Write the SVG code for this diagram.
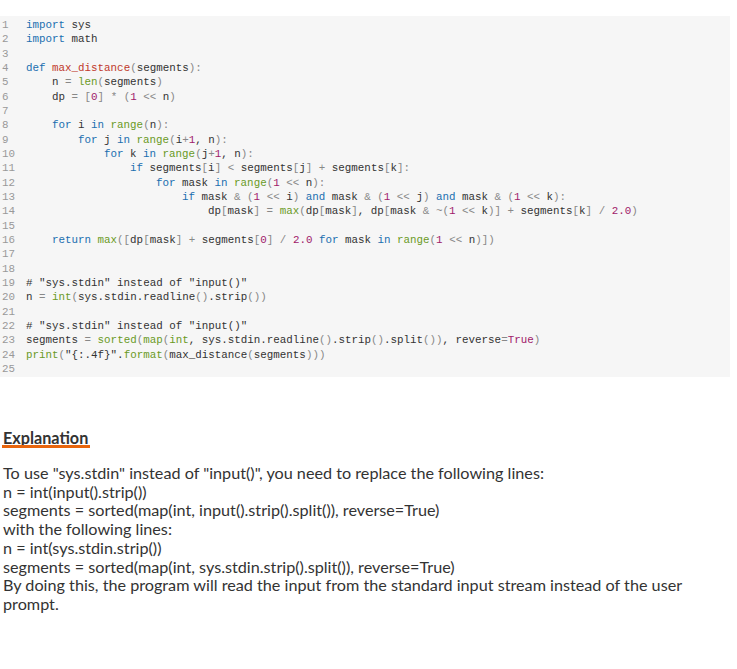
<svg xmlns="http://www.w3.org/2000/svg" width="737" height="669" viewBox="0 0 737 669">
<style>
.c{font-family:"Liberation Mono","DejaVu Sans Mono",monospace;font-size:10.85px;fill:#333;white-space:pre}
.ln{fill:#999}
.k{fill:#1a6fb0}.f{fill:#6a9a1f}.n{fill:#a0206a}.d{fill:#c0392b}.o{fill:#888}
.t{font-family:Lato,"Open Sans",sans-serif;font-size:16.2px;fill:#333}
</style>
<rect width="737" height="669" fill="#fff"/>
<g id="code">
<rect x="0" y="16" width="730" height="361" fill="#f6f6f6"/>
<g class="c ln">
<text x="2" y="28">1</text><text x="2" y="42.3">2</text><text x="2" y="56.7">3</text><text x="2" y="71">4</text><text x="2" y="85.3">5</text><text x="2" y="99.7">6</text><text x="2" y="114">7</text><text x="2" y="128.3">8</text><text x="2" y="142.7">9</text><text x="2" y="157">10</text><text x="2" y="171.3">11</text><text x="2" y="185.7">12</text><text x="2" y="200">13</text><text x="2" y="214.3">14</text><text x="2" y="228.7">15</text><text x="2" y="243">16</text><text x="2" y="257.3">17</text><text x="2" y="271.7">18</text><text x="2" y="286">19</text><text x="2" y="300.3">20</text><text x="2" y="314.7">21</text><text x="2" y="329">22</text><text x="2" y="343.3">23</text><text x="2" y="357.7">24</text><text x="2" y="372">25</text>
</g>
<g class="c">
<text x="26" y="28"><tspan class="k">import</tspan> sys</text>
<text x="26" y="42.3"><tspan class="k">import</tspan> math</text>
<text x="26" y="71"><tspan class="k">def</tspan> <tspan class="d">max_distance</tspan><tspan class="o">(</tspan>segments<tspan class="o">):</tspan></text>
<text x="52" y="85.3">n <tspan class="o">=</tspan> <tspan class="f">len</tspan><tspan class="o">(</tspan>segments<tspan class="o">)</tspan></text>
<text x="52" y="99.7">dp <tspan class="o">=</tspan> <tspan class="o">[</tspan><tspan class="n">0</tspan><tspan class="o">]</tspan> <tspan class="o">*</tspan> <tspan class="o">(</tspan><tspan class="n">1</tspan> <tspan class="o">&lt;&lt;</tspan> n<tspan class="o">)</tspan></text>
<text x="52" y="128.3"><tspan class="k">for</tspan> i <tspan class="k">in</tspan> <tspan class="f">range</tspan><tspan class="o">(</tspan>n<tspan class="o">):</tspan></text>
<text x="78" y="142.7"><tspan class="k">for</tspan> j <tspan class="k">in</tspan> <tspan class="f">range</tspan><tspan class="o">(</tspan>i<tspan class="o">+</tspan><tspan class="n">1</tspan>, n<tspan class="o">):</tspan></text>
<text x="104" y="157"><tspan class="k">for</tspan> k <tspan class="k">in</tspan> <tspan class="f">range</tspan><tspan class="o">(</tspan>j<tspan class="o">+</tspan><tspan class="n">1</tspan>, n<tspan class="o">):</tspan></text>
<text x="130" y="171.3"><tspan class="k">if</tspan> segments<tspan class="o">[</tspan>i<tspan class="o">]</tspan> <tspan class="o">&lt;</tspan> segments<tspan class="o">[</tspan>j<tspan class="o">]</tspan> <tspan class="o">+</tspan> segments<tspan class="o">[</tspan>k<tspan class="o">]:</tspan></text>
<text x="156" y="185.7"><tspan class="k">for</tspan> mask <tspan class="k">in</tspan> <tspan class="f">range</tspan><tspan class="o">(</tspan><tspan class="n">1</tspan> <tspan class="o">&lt;&lt;</tspan> n<tspan class="o">):</tspan></text>
<text x="182" y="200"><tspan class="k">if</tspan> mask <tspan class="o">&amp;</tspan> <tspan class="o">(</tspan><tspan class="n">1</tspan> <tspan class="o">&lt;&lt;</tspan> i<tspan class="o">)</tspan> <tspan class="k">and</tspan> mask <tspan class="o">&amp;</tspan> <tspan class="o">(</tspan><tspan class="n">1</tspan> <tspan class="o">&lt;&lt;</tspan> j<tspan class="o">)</tspan> <tspan class="k">and</tspan> mask <tspan class="o">&amp;</tspan> <tspan class="o">(</tspan><tspan class="n">1</tspan> <tspan class="o">&lt;&lt;</tspan> k<tspan class="o">):</tspan></text>
<text x="208" y="214.3">dp<tspan class="o">[</tspan>mask<tspan class="o">]</tspan> <tspan class="o">=</tspan> <tspan class="f">max</tspan><tspan class="o">(</tspan>dp<tspan class="o">[</tspan>mask<tspan class="o">]</tspan>, dp<tspan class="o">[</tspan>mask <tspan class="o">&amp;</tspan> <tspan class="o">~(</tspan><tspan class="n">1</tspan> <tspan class="o">&lt;&lt;</tspan> k<tspan class="o">)]</tspan> <tspan class="o">+</tspan> segments<tspan class="o">[</tspan>k<tspan class="o">]</tspan> <tspan class="o">/</tspan> <tspan class="n">2.0</tspan><tspan class="o">)</tspan></text>
<text x="52" y="243"><tspan class="k">return</tspan> <tspan class="f">max</tspan><tspan class="o">([</tspan>dp<tspan class="o">[</tspan>mask<tspan class="o">]</tspan> <tspan class="o">+</tspan> segments<tspan class="o">[</tspan><tspan class="n">0</tspan><tspan class="o">]</tspan> <tspan class="o">/</tspan> <tspan class="n">2.0</tspan> <tspan class="k">for</tspan> mask <tspan class="k">in</tspan> <tspan class="f">range</tspan><tspan class="o">(</tspan><tspan class="n">1</tspan> <tspan class="o">&lt;&lt;</tspan> n<tspan class="o">)])</tspan></text>
<text x="26" y="286"># "sys.stdin" instead of "input()"</text>
<text x="26" y="300.3">n <tspan class="o">=</tspan> <tspan class="f">int</tspan><tspan class="o">(</tspan>sys.stdin.readline<tspan class="o">()</tspan>.strip<tspan class="o">())</tspan></text>
<text x="26" y="329"># "sys.stdin" instead of "input()"</text>
<text x="26" y="343.3">segments <tspan class="o">=</tspan> <tspan class="f">sorted</tspan><tspan class="o">(</tspan><tspan class="f">map</tspan><tspan class="o">(</tspan><tspan class="f">int</tspan>, sys.stdin.readline<tspan class="o">()</tspan>.strip<tspan class="o">()</tspan>.split<tspan class="o">())</tspan>, reverse<tspan class="o">=</tspan><tspan class="n">True</tspan><tspan class="o">)</tspan></text>
<text x="26" y="357.7"><tspan class="f">print</tspan><tspan class="o">(</tspan>"{:.4f}".<tspan class="f">format</tspan><tspan class="o">(</tspan>max_distance<tspan class="o">(</tspan>segments<tspan class="o">)))</tspan></text>
</g>
</g>
<g id="explanation">
<text x="3" y="444" class="t" font-weight="bold">Explanation</text>
<rect x="2" y="445" width="88" height="3" fill="#e8650d"/>
<text x="3" y="479" class="t">To use "sys.stdin" instead of "input()", you need to replace the following lines:</text>
<text x="3" y="497.7" class="t">n = int(input().strip())</text>
<text x="3" y="516.4" class="t">segments = sorted(map(int, input().strip().split()), reverse=True)</text>
<text x="3" y="535.1" class="t">with the following lines:</text>
<text x="3" y="553.8" class="t">n = int(sys.stdin.strip())</text>
<text x="3" y="572.5" class="t">segments = sorted(map(int, sys.stdin.strip().split()), reverse=True)</text>
<text x="3" y="591.2" class="t">By doing this, the program will read the input from the standard input stream instead of the user</text>
<text x="3" y="609.9" class="t">prompt.</text>
</g>
</svg>
